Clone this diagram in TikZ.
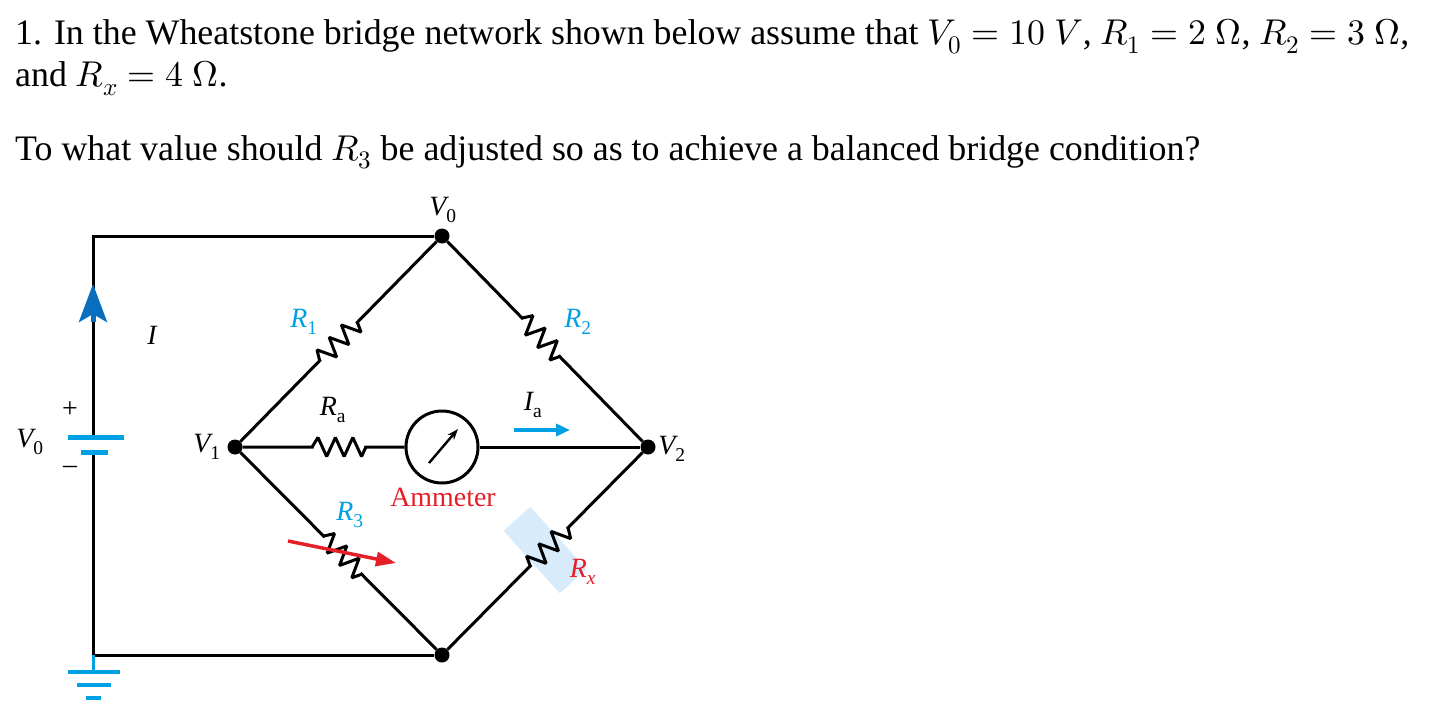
\documentclass[tikz,border=0pt]{standalone}
\usepackage{fontspec}
\usepackage{unicode-math}
\setmainfont{Liberation Serif}
\setmathfont{Latin Modern Math}
\usepackage[siunitx]{circuitikz}
\usetikzlibrary{positioning,calc,arrows.meta}
\definecolor{wireblue}{RGB}{0,160,228}
\definecolor{darkblue}{RGB}{10,110,190}
\definecolor{ammred}{RGB}{230,30,40}
\definecolor{hilite}{RGB}{215,235,250}
\tikzset{
	every node/.style = {font=\fontsize{28}{32}\selectfont},
	wire/.style = {line width=3bp, black},
	dot/.style = {circle, fill=black, inner sep=0pt, minimum size=15bp},
	lbl/.style = {inner sep=1bp},
	qtext/.style = {anchor=base west, inner sep=0, font=\fontsize{36}{40}\selectfont},
	blu/.style = {line width=5bp, wireblue}
}
\ctikzset{bipoles/thickness=1, resistors/scale=1.6}
\newcommand{\rlab}[2]{{\itshape #1}\textsubscript{\upshape #2}}
\begin{document}
\begin{tikzpicture}[x=1bp,y=-1bp]
		\useasboundingbox (0,0) rectangle (1446,710);
		% question text
		\node[qtext] (q1) at (15,45)
			{1. In the Wheatstone bridge network shown below assume that $V_0 = 10\ V$, $R_1 = 2\ \Omega$, $R_2 = 3\ \Omega$,};
		\node[qtext] (q2) at (15,87) {and $R_x = 4\ \Omega$.};
		\node[qtext] (q3) at (15,160)
			{To what value should $R_3$ be adjusted so as to achieve a balanced bridge condition?};
		% junctions
		\node[dot] (top) at (442,236) {};
		\node[dot] (bot) at (442,655) {};
		\node[dot] (v1) at (235,447) {};
		\node[dot] (v2) at (648,447) {};
		\coordinate (tl) at (93,236);
		\coordinate (bl) at (93,655);
		\coordinate (bp) at (93,437);
		\coordinate (bn) at (93,452);
		% outer loop
		\draw[wire] (bp) -- (tl) -- (top);
		\draw[wire] (bn) -- (bl) -- (bot);
		% battery
		\draw[blu] (68,437) -- (124,437);
		\draw[blu] (81,452) -- (108,452);
		\node (plus) at (70,410) {+};
		\node (minus) at (70,470) {--};
		\node[lbl] (lv0) at (30,442) {\rlab{V}{0}};
		% ground
		\draw[line width=3bp, wireblue] (bl) -- (93,672);
		\draw[line width=4bp, wireblue] (68,672) -- (120,672);
		\draw[line width=4bp, wireblue] (77,685) -- (111,685);
		\draw[line width=4bp, wireblue] (86,698) -- (101,698);
		% current arrow
		\coordinate (ia0) at (93,322);
		\coordinate (ia1) at (93,284);
		\draw[line width=5bp, darkblue, -{Stealth[width=28bp,length=38bp,inset=8bp]}] (ia0) -- (ia1);
		\node (lI) at (152,335) {\itshape I};
		% bridge arms
		\draw[wire] (v1) -- ($(v1)!0.40!(top)$) to[R] ($(v1)!0.60!(top)$) -- (top);
		\draw[wire] (top) -- ($(top)!0.38!(v2)$) to[R] ($(top)!0.58!(v2)$) -- (v2);
		\draw[wire] (v1) -- ($(v1)!0.42!(bot)$) to[R] ($(v1)!0.62!(bot)$) -- (bot);
		% Rx with highlight
		\fill[hilite, rotate around={-48:(545,550)}] (545,550) ++(-42,-18) rectangle ++(84,36);
		\draw[wire] (v2) -- ($(v2)!0.38!(bot)$) to[R] ($(v2)!0.58!(bot)$) -- (bot);
		% middle branch
		\node[circle, draw, line width=3bp, minimum size=72bp, inner sep=0] (amm) at (442,447) {};
		\draw[wire] (v1) -- (308,447) to[R] (370,447) -- (amm.west);
		\draw[wire] (amm.east) -- (v2);
		\draw[line width=2.4bp, -{Stealth[length=11bp,width=8bp]}] (429,463) -- (458,429);
		% labels
		\node[lbl] (lr1) at (304,322) {\color{wireblue}\rlab{R}{1}};
		\node[lbl] (lr2) at (578,322) {\color{wireblue}\rlab{R}{2}};
		\node[lbl] (lr3) at (350,515) {\color{wireblue}\rlab{R}{3}};
		\node[lbl] (lrx) at (583,572) {\color{ammred}\itshape R\textsubscript{x}};
		\node[lbl] (lra) at (333,410) {\rlab{R}{a}};
		\node[lbl] (lia) at (533,405) {\rlab{I}{a}};
		\node[lbl] (lv1) at (207,447) {\rlab{V}{1}};
		\node[lbl] (lv2) at (672,449) {\rlab{V}{2}};
		\node[lbl] (ltop) at (443,210) {\rlab{V}{0}};
		\node[lbl, text=ammred] (lamm) at (443,497) {Ammeter};
		% Ia arrow
		\coordinate (ib0) at (514,430);
		\coordinate (ib1) at (570,430);
		\draw[line width=4bp, wireblue, -{Triangle[width=12bp,length=14bp]}] (ib0) -- (ib1);
		% R3 adjust arrow
		\coordinate (ra0) at (288,541);
		\coordinate (ra1) at (396,563);
		\draw[line width=3.5bp, ammred, -{Triangle[width=14bp,length=20bp]}] (ra0) -- (ra1);
	\end{tikzpicture}
\end{document}
